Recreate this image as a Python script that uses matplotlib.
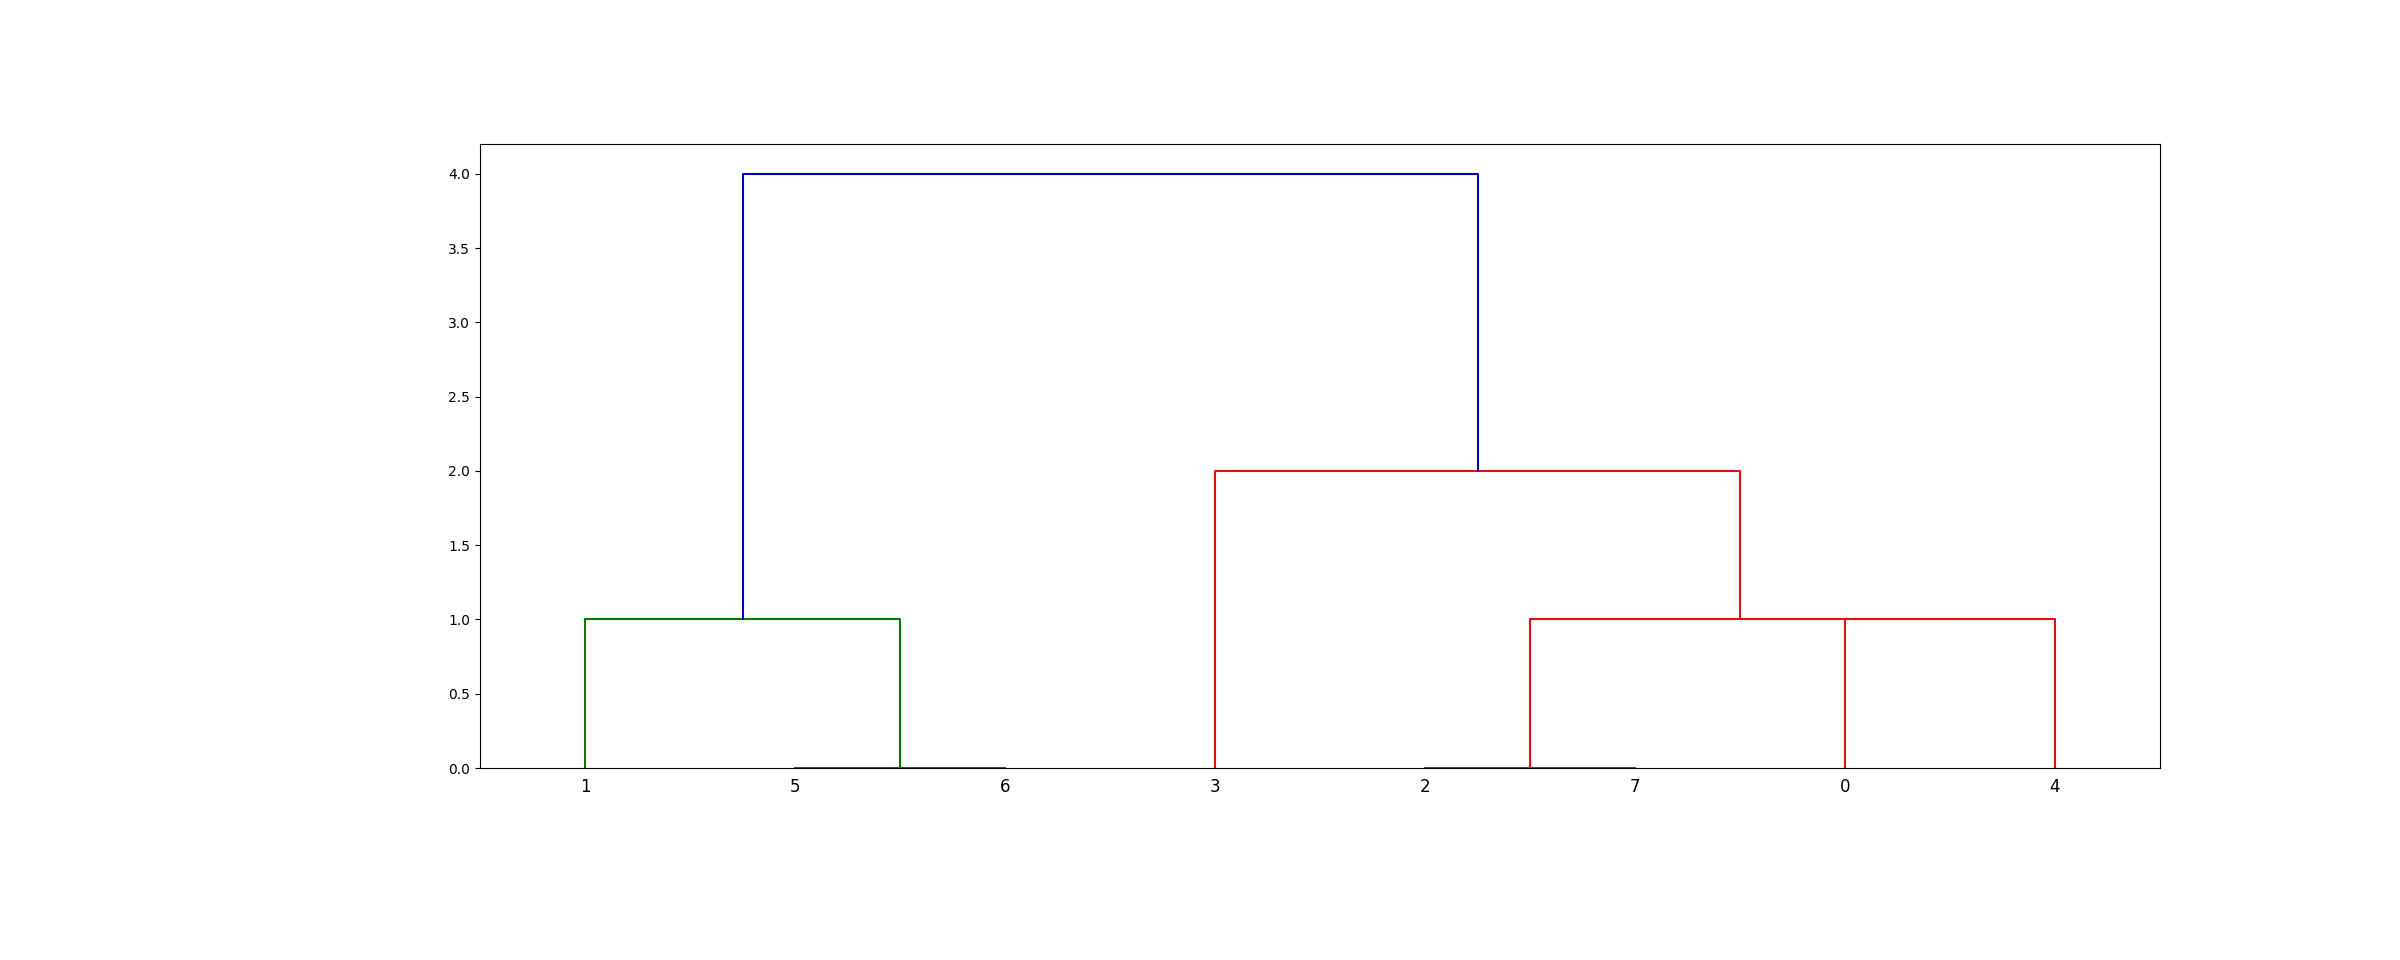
import matplotlib
matplotlib.use('Agg')
import matplotlib.pyplot as plt

# 叶子顺序（横轴标签）
leaf_labels = ['1', '5', '6', '3', '2', '7', '0', '4']

# 合并步骤：左节点、右节点（字符串=叶子，整数=前面的合并序号）、高度、颜色
merge_left = ['5', '1', '2', '0', 2, '3', 1]
merge_right = ['6', 0, '7', '4', 3, 4, 5]
merge_height = [0.0, 1.0, 0.0, 1.0, 1.0, 2.0, 4.0]
merge_color = ['#007a00', '#007a00', '#e01010', '#e01010', '#e01010', '#e01010', '#0000c0']

leaf_x = {lab: 5 + 10 * i for i, lab in enumerate(leaf_labels)}


def node_pos(node, centers, heights):
    if isinstance(node, str):
        return leaf_x[node], 0.0
    return centers[node], heights[node]


fig = plt.figure(figsize=(24, 9.6), dpi=100)
ax = fig.add_axes([0.2, 0.2, 0.7, 0.65])

centers = []
for left, right, h, c in zip(merge_left, merge_right, merge_height, merge_color):
    x1, y1 = node_pos(left, centers, merge_height)
    x2, y2 = node_pos(right, centers, merge_height)
    ax.plot([x1, x1, x2, x2], [y1, h, h, y2], color=c, linewidth=1.5)
    centers.append((x1 + x2) / 2)

ax.set_xlim(0, 10 * len(leaf_labels))
ax.set_ylim(0, max(merge_height) * 1.05)
ax.set_xticks([leaf_x[l] for l in leaf_labels])
ax.set_xticklabels(leaf_labels, fontsize=12)
for line in ax.get_xticklines():
    line.set_visible(False)
ax.tick_params(axis='y', labelsize=10)

plt.savefig('out.png')
